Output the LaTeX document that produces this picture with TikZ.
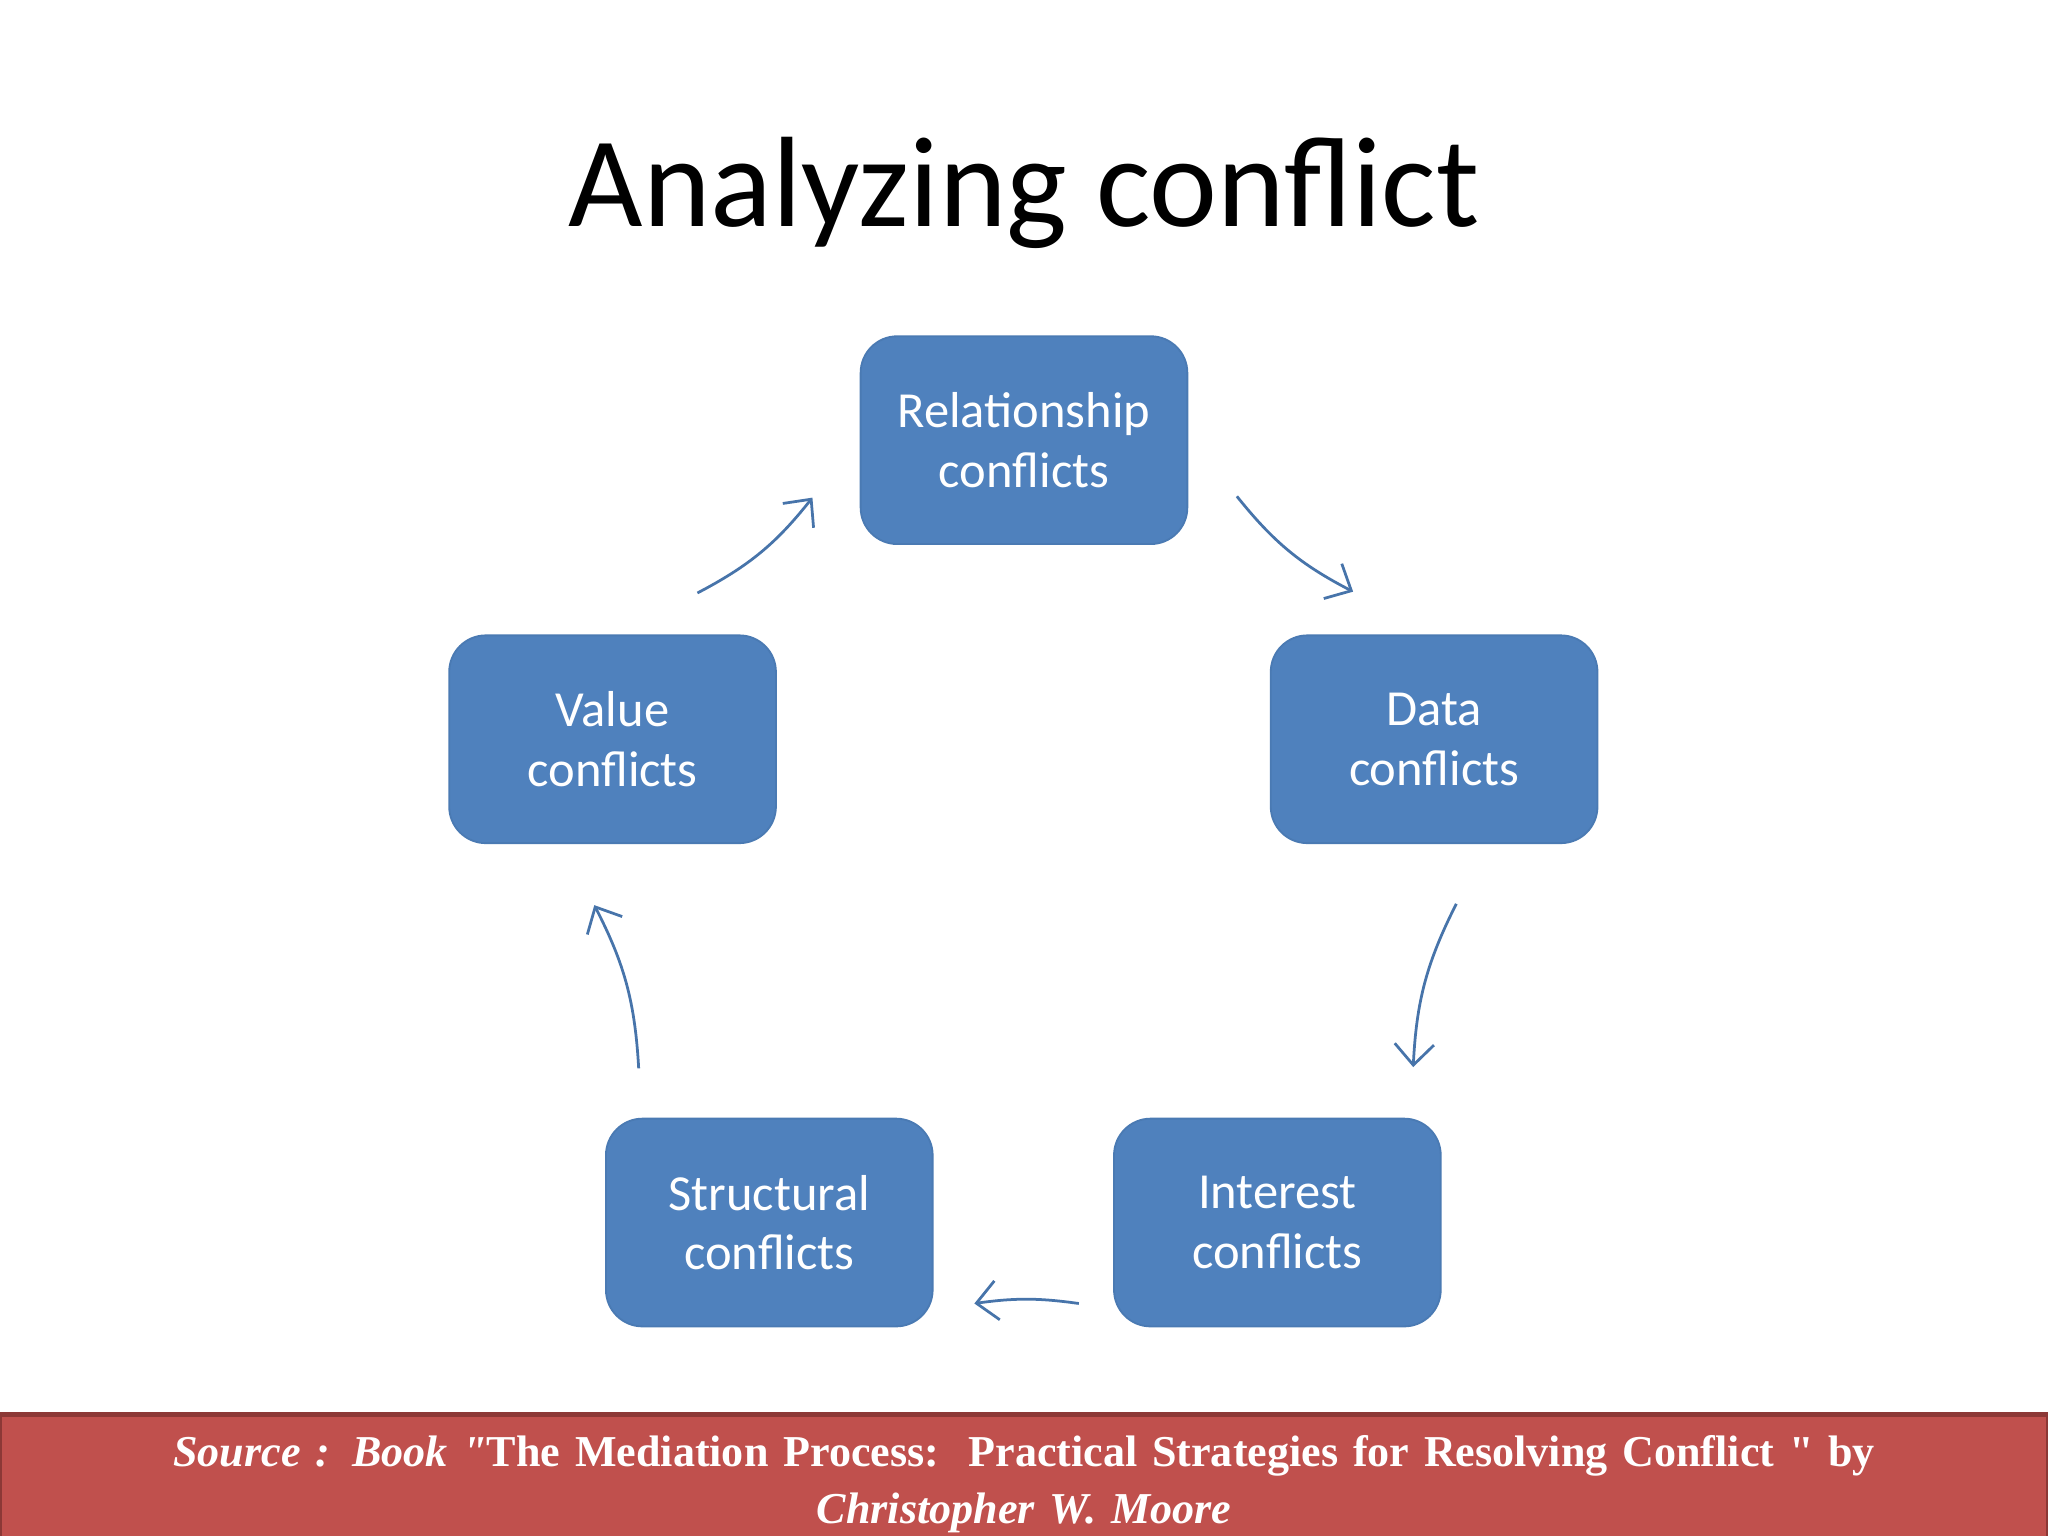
\documentclass[tikz,border=0pt]{standalone}
\usepackage{fontspec}
\setmainfont{Carlito}
\newfontfamily\timesf{Liberation Serif}
\usetikzlibrary{arrows.meta}
\definecolor{boxblue}{HTML}{4F81BD}
\definecolor{boxedge}{HTML}{4A7AB3}
\definecolor{footred}{HTML}{C0504D}
\definecolor{footedge}{HTML}{8C3836}
\tikzset{
  cbox/.style={fill=boxblue, draw=boxedge, rounded corners=0.28cm, minimum width=2.5cm, minimum height=1.59cm, text=white, align=center, font=\fontsize{11pt}{13pt}\selectfont, inner sep=0pt},
  cyc/.style={draw=boxblue!90!black, line width=0.6pt, -{Straight Barb[length=1.6mm,width=3mm]}}
}
\begin{document}
\begin{tikzpicture}[x=0.01cm,y=-0.01cm]
\clip (0,0) rectangle (1568,1176);
\fill[white] (0,0) rectangle (1568,1176);
\node[font=\fontsize{28pt}{32pt}\selectfont] (title) at (784,148) {Analyzing conflict};
\node[cbox] (rel) at (784,337) {Relationship\\conflicts};
\node[cbox] (dat) at (1098,566) {Data\\conflicts};
\node[cbox] (int) at (978,936) {Interest\\conflicts};
\node[cbox] (str) at (589,936) {Structural\\conflicts};
\node[cbox] (val) at (469,566) {Value\\conflicts};
\coordinate (a1) at (947,380); \coordinate (b1) at (1036,453);
\coordinate (a2) at (1115,692); \coordinate (b2) at (1082,817);
\coordinate (a3) at (826,998); \coordinate (b3) at (746,998);
\coordinate (a4) at (489,818); \coordinate (b4) at (455,693);
\coordinate (a5) at (534,454); \coordinate (b5) at (622,381);
\draw[cyc] (a1) to[bend right=12] (b1);
\draw[cyc] (a2) to[bend right=12] (b2);
\draw[cyc] (a3) to[bend right=8] (b3);
\draw[cyc] (a4) to[bend right=12] (b4);
\draw[cyc] (a5) to[bend right=12] (b5);
\draw[fill=footred, draw=footedge, line width=1pt] (0,1083) rectangle (1568,1190);
\node[text=white, align=center, text width=15.4cm, inner sep=0pt, font=\timesf\bfseries\fontsize{9.6pt}{12.6pt}\selectfont, anchor=north] (foot) at (784,1098)
  {\textit{Source : Book} \textit{"}The Mediation Process:\ \ Practical Strategies for Resolving Conflict " by\\ \textit{Christopher W. Moore}};
\end{tikzpicture}
\end{document}
